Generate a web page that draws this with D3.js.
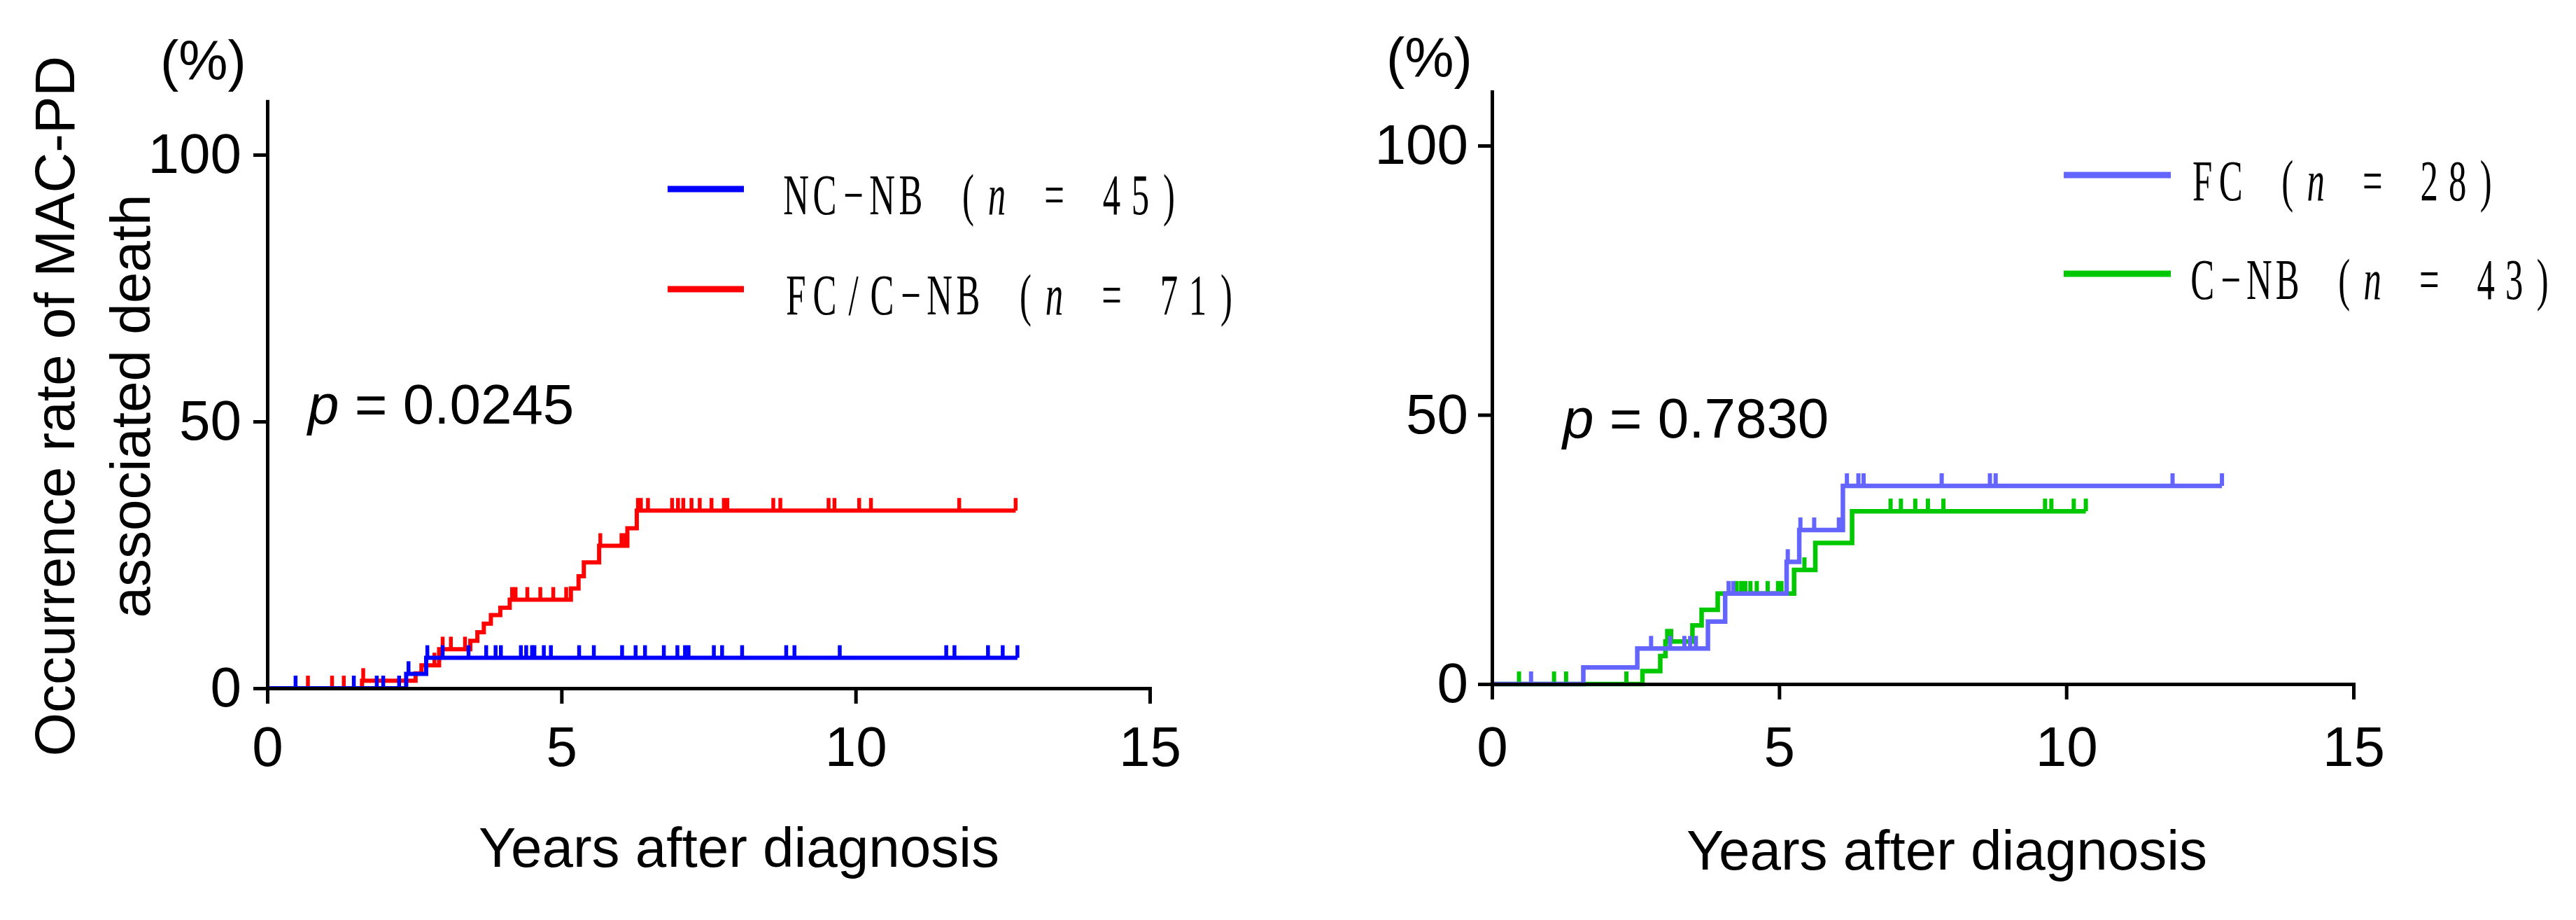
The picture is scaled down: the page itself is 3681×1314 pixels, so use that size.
<!DOCTYPE html>
<html>
<head>
<meta charset="utf-8">
<script src="https://cdn.jsdelivr.net/npm/d3@7/dist/d3.min.js"></script>
<style>
html,body{margin:0;padding:0;background:#fff;}
text{white-space:pre;}
</style>
</head>
<body>
<svg id="chart" width="3681" height="1314" xmlns="http://www.w3.org/2000/svg"></svg>
<script>
// ---------- DATA ----------
const xTickValues = [0, 5, 10, 15];
const yTickValues = [0, 50, 100];
const xAxisTitle = "Years after diagnosis";
const yAxisTitleLines = ["Occurrence rate of MAC-PD", "associated death"];
const unitLabel = "(%)";

// Left panel: NC-NB vs FC/C-NB
const ncnbName = "NC\u2212NB", ncnbN = "45";
const ncnbStepTimes  = [2.36, 2.70];
const ncnbStepValues = [2.7, 5.7];
const ncnbCensorTimes = [0.48, 1.47, 1.86, 1.97, 2.24, 2.40, 2.72, 2.98, 3.42, 3.72, 3.88, 3.97,
  4.31, 4.40, 4.50, 4.54, 4.70, 4.82, 5.30, 5.55, 6.03, 6.26, 6.42, 6.74, 6.97, 7.10, 7.16,
  7.59, 7.73, 8.07, 8.82, 8.96, 9.73, 11.54, 11.68, 12.25, 12.50, 12.75];
const ncnbEnd = 12.75;

const fccnbName = "FC/C\u2212NB", fccnbN = "71";
const fccnbStepTimes  = [1.61, 2.52, 2.62, 2.92, 3.45, 3.57, 3.68, 3.80, 3.96, 4.12, 5.16, 5.29, 5.38, 5.64, 6.12, 6.28];
const fccnbStepValues = [1.4, 2.8, 4.3, 7.3, 8.9, 10.5, 12.1, 13.7, 15.1, 16.6, 18.7, 21.0, 23.6, 26.7, 30.0, 33.3];
const fccnbCensorTimes = [0.69, 1.10, 1.30, 1.63, 2.84, 2.98, 3.12, 3.36, 4.16, 4.22, 4.42, 4.64, 4.86, 5.08,
  5.66, 6.02, 6.08, 6.30, 6.35, 6.47, 6.88, 6.98, 7.07, 7.21, 7.35, 7.55, 7.76, 7.82, 8.60, 8.72,
  9.54, 9.64, 10.06, 10.26, 11.76, 12.72];
const fccnbEnd = 12.72;
const pLeft = "0.0245";

// Right panel: FC vs C-NB
const fcName = "FC", fcN = "28";
const fcStepTimes  = [1.59, 2.53, 3.76, 4.06, 5.13, 5.35, 6.11];
const fcStepValues = [3.1, 6.6, 11.6, 16.8, 22.7, 28.6, 36.8];
const fcCensorTimes = [0.68, 2.77, 3.10, 3.35, 3.45, 3.55, 4.12, 4.20, 5.15, 5.37, 5.61, 6.04,
  6.18, 6.38, 6.47, 7.83, 8.67, 8.77, 11.85, 12.71];
const fcEnd = 12.71;

const cnbName = "C\u2212NB", cnbN = "43";
const cnbStepTimes  = [2.62, 2.93, 3.02, 3.49, 3.65, 3.93, 5.26, 5.63, 6.27];
const cnbStepValues = [2.4, 5.2, 7.9, 10.9, 13.8, 16.8, 21.2, 26.2, 32.1];
const cnbCensorTimes = [0.47, 1.08, 1.29, 2.34, 3.05, 3.12, 4.26, 4.34, 4.41, 4.50, 4.61, 4.80, 4.98, 5.04,
  5.44, 6.94, 7.12, 7.37, 7.59, 7.86, 9.63, 9.74, 10.13, 10.34];
const cnbEnd = 10.34;
const pRight = "0.7830";

// ---------- DRAWING ----------
const svg = d3.select("#chart");
svg.append("rect").attr("width", 3681).attr("height", 1314).attr("fill", "#fff");

const SANS = "'Liberation Sans', Arial, sans-serif";
const SERIF = "'Liberation Serif', 'Times New Roman', serif";

function valueAt(times, values, t) {
  const i = d3.bisectRight(times, t);
  return i === 0 ? 0 : values[i - 1];
}

function legendEntry(g, lx0, lx1, ly, color, name, n, cellX, u) {
  g.append("line").attr("x1", lx0).attr("x2", lx1).attr("y1", ly).attr("y2", ly)
    .attr("stroke", color).attr("stroke-width", 9);
  const segs = [{t: name + " (", it: false}, {t: "n", it: true}, {t: " = " + n + ")", it: false}];
  const chars = [];
  segs.forEach(s => Array.from(s.t).forEach(c => chars.push({c, it: s.it})));
  const sx = 0.62;
  const txt = g.append("text")
    .attr("transform", `translate(${cellX},${ly + 36}) scale(${sx},1)`)
    .attr("font-family", SERIF).attr("font-size", 82).attr("fill", "#000");
  chars.forEach((d, k) => {
    if (d.c === " ") return;
    txt.append("tspan").attr("x", ((k + 0.5) * u) / sx).attr("y", 0)
      .attr("text-anchor", "middle")
      .attr("font-style", d.it ? "italic" : "normal").text(d.c);
  });
}

function panel(p) {
  const g = svg.append("g");
  const x = d3.scaleLinear().domain([0, 15]).range([p.x0, p.x15]);
  const perUnit = (p.y0 - p.y100) / 100;
  const y = d3.scaleLinear().domain([0, 110]).range([p.y0, p.y0 - 110 * perUnit]);

  // series
  p.series.forEach(s => {
    const pts = [[0, 0]].concat(s.times.map((t, i) => [t, s.values[i]]))
      .concat([[s.end, s.values[s.values.length - 1]]]);
    const line = d3.line().x(d => x(d[0])).y(d => y(d[1])).curve(d3.curveStepAfter);
    g.append("path").attr("d", line(pts)).attr("fill", "none")
      .attr("stroke", s.color).attr("stroke-width", p.lw).attr("stroke-linejoin", "miter");
    g.selectAll(null).data(s.censor).enter().append("line")
      .attr("x1", t => x(t)).attr("x2", t => x(t))
      .attr("y1", t => y(valueAt(s.times, s.values, t)))
      .attr("y2", t => y(valueAt(s.times, s.values, t)) - 18)
      .attr("stroke", s.color).attr("stroke-width", p.lw - 0.5);
  });

  // axes
  const xa = g.append("g").attr("transform", `translate(0,${p.y0})`)
    .call(d3.axisBottom(x).tickValues(xTickValues).tickSize(22).tickSizeOuter(0)
      .tickPadding(1037 - p.y0 - 22).tickFormat(d3.format("d")));
  const ya = g.append("g").attr("transform", `translate(${p.x0},0)`)
    .call(d3.axisLeft(y).tickValues(yTickValues).tickSize(20).tickSizeOuter(0)
      .tickPadding(p.yPad).tickFormat(d3.format("d")));
  [xa, ya].forEach(a => {
    a.select(".domain").attr("stroke", "#000").attr("stroke-width", 5).attr("stroke-linecap", "square");
    a.selectAll(".tick line").attr("stroke", "#000").attr("stroke-width", 5);
    a.selectAll(".tick text").attr("font-family", SANS).attr("font-size", 80).attr("fill", "#000");
  });

  // unit label
  g.append("text").attr("x", p.pctX).attr("y", p.pctY).attr("font-family", SANS)
    .attr("font-size", 79).attr("fill", "#000").text(unitLabel);

  // x axis title
  g.append("text").attr("x", p.xtX).attr("y", p.xtY).attr("text-anchor", "middle")
    .attr("font-family", SANS).attr("font-size", 80).attr("fill", "#000").text(xAxisTitle);

  // p value
  const pt = g.append("text").attr("x", p.pX).attr("y", p.pY).attr("font-family", SANS)
    .attr("font-size", 80).attr("fill", "#000");
  pt.append("tspan").attr("font-style", "italic").text("p");
  pt.append("tspan").text(" = " + p.pval);

  // legend
  p.series.slice().reverse().forEach((s, i) => {
    legendEntry(g, p.legX0, p.legX1, p.legY[i], s.color, s.name, s.n, p.legTextX, p.legU);
  });
  return g;
}

panel({
  x0: 382, x15: 1643, y0: 983, y100: 221, lw: 6, yPad: 17,
  pctX: 229, pctY: 114, xtX: 1056, xtY: 1238, pX: 440, pY: 605, pval: pLeft,
  legX0: 954, legX1: 1063, legY: [270, 413], legTextX: 1117, legU: 41,
  series: [
    {name: fccnbName, n: fccnbN, color: "#ff0000", times: fccnbStepTimes, values: fccnbStepValues, censor: fccnbCensorTimes, end: fccnbEnd},
    {name: ncnbName, n: ncnbN, color: "#0000ff", times: ncnbStepTimes, values: ncnbStepValues, censor: ncnbCensorTimes, end: ncnbEnd}
  ]
});

panel({
  x0: 2132, x15: 3363, y0: 977, y100: 208, lw: 6.5, yPad: 14,
  pctX: 1981, pctY: 110, xtX: 2782, xtY: 1242, pX: 2233, pY: 625, pval: pRight,
  legX0: 2949, legX1: 3102, legY: [250, 391], legTextX: 3127, legU: 40.5,
  series: [
    {name: cnbName, n: cnbN, color: "#00c800", times: cnbStepTimes, values: cnbStepValues, censor: cnbCensorTimes, end: cnbEnd},
    {name: fcName, n: fcN, color: "#6464ff", times: fcStepTimes, values: fcStepValues, censor: fcCensorTimes, end: fcEnd}
  ]
});

// y axis title (left panel only)
const yt = svg.append("g");
[106, 214].forEach((bx, i) => {
  yt.append("text").attr("transform", `translate(${bx},580) rotate(-90)`)
    .attr("text-anchor", "middle").attr("font-family", SANS).attr("font-size", 80)
    .attr("fill", "#000").text(yAxisTitleLines[i]);
});
</script>
</body>
</html>
